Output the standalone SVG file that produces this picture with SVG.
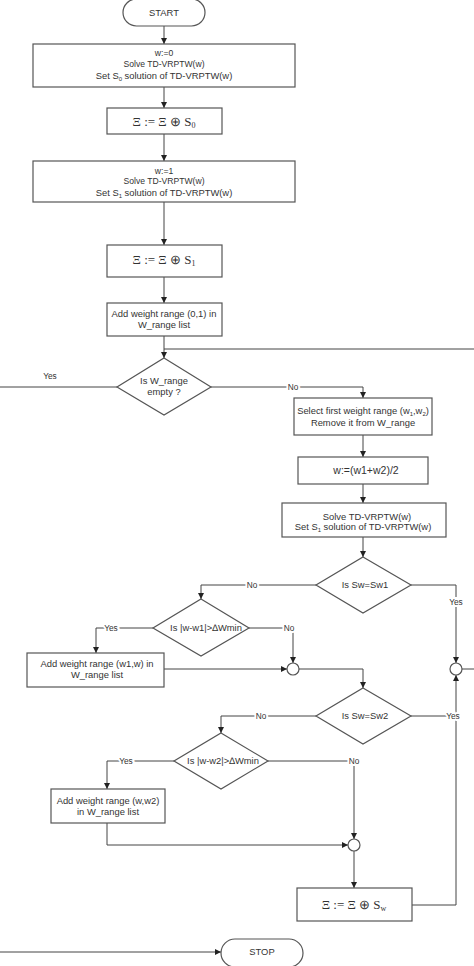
<svg xmlns="http://www.w3.org/2000/svg" width="474" height="966" viewBox="0 0 474 966">
<defs>
<marker id="ah" markerUnits="userSpaceOnUse" markerWidth="7" markerHeight="7" refX="6" refY="3" orient="auto">
<path d="M0,0 L6,3 L0,6 z" fill="#222"/>
</marker>
<style>
.box{fill:#fff;stroke:#555;stroke-width:1.2}
.ln{fill:none;stroke:#444;stroke-width:1}
.ar{fill:none;stroke:#444;stroke-width:1;marker-end:url(#ah)}
.t{font-family:"Liberation Sans",Arial,sans-serif;font-size:9.4px;fill:#333;text-anchor:middle}
.s{font-size:8.6px}
.big{font-size:10.5px}
.m{font-family:"Liberation Serif","Times New Roman",serif;font-size:13px;fill:#333;text-anchor:middle}
.lb{font-family:"Liberation Sans",Arial,sans-serif;font-size:8.3px;fill:#333;text-anchor:middle;stroke:#fff;stroke-width:4;paint-order:stroke}
.plain{font-family:"Liberation Sans",Arial,sans-serif;font-size:8.3px;fill:#333;text-anchor:middle}
.sub{font-size:6px}
.msub{font-size:8px}
</style>
</defs>
<rect width="474" height="966" fill="#fff"/>

<g id="connectors">
<path class="ar" d="M164,26 V44"/>
<path class="ar" d="M164,87 V108"/>
<path class="ar" d="M164,134 V161"/>
<path class="ar" d="M164,202 V245"/>
<path class="ar" d="M164,277 V303"/>
<path class="ar" d="M164,336 V358"/>
<path class="ln" d="M164,349 H474"/>
<path class="ln" d="M117,387 H0"/>
<path class="ar" d="M211,387 H363 V398"/>
<path class="ar" d="M363,435 V457"/>
<path class="ar" d="M363,484 V503"/>
<path class="ar" d="M363,537 V557"/>
<path class="ar" d="M316,585 H201 V599"/>
<path class="ar" d="M411,585 H456 V663"/>
<path class="ar" d="M153,628 H96 V653"/>
<path class="ar" d="M249,628 H293 V663"/>
<path class="ar" d="M164,669 H287"/>
<path class="ar" d="M299,669 H363 V688"/>
<path class="ln" d="M462,669 H474"/>
<path class="ar" d="M316,716 H221 V733"/>
<path class="ln" d="M411,716 H456"/>
<path class="ar" d="M174,761 H107 V789"/>
<path class="ar" d="M268,761 H354 V839"/>
<path class="ar" d="M107,823 V845 H348"/>
<path class="ar" d="M354,851 V888"/>
<path class="ar" d="M412,905 H456 V675"/>
<path class="ar" d="M0,952 H221"/>
<circle class="box" cx="293" cy="669" r="6"/>
<circle class="box" cx="456" cy="669" r="6"/>
<circle class="box" cx="354" cy="845" r="6"/>
<text class="plain" x="50" y="379">Yes</text>
<text class="lb" x="293" y="390">No</text>
<text class="lb" x="252" y="588">No</text>
<text class="lb" x="456" y="605">Yes</text>
<text class="lb" x="111" y="631">Yes</text>
<text class="lb" x="289" y="631">No</text>
<text class="lb" x="261" y="719">No</text>
<text class="lb" x="453" y="719">Yes</text>
<text class="lb" x="126" y="764">Yes</text>
<text class="lb" x="354" y="764">No</text>
</g>

<g id="start">
<rect class="box" x="123" y="-1" width="82" height="27" rx="13.5"/>
<text class="t" x="164" y="16">START</text>
</g>

<g id="init0">
<rect class="box" x="33" y="44" width="262" height="43"/>
<text class="t s" x="164" y="56">w:=0</text>
<text class="t s" x="164" y="67">Solve TD-VRPTW(w)</text>
<text class="t" x="164" y="79">Set S<tspan class="sub" dy="2">0</tspan><tspan dy="-2"> solution of TD-VRPTW(w)</tspan></text>
</g>

<g id="xi0">
<rect class="box" x="107" y="108" width="115" height="26"/>
<text class="m" x="164" y="126">Ξ := Ξ ⊕ S<tspan class="msub" dy="2">0</tspan></text>
</g>

<g id="init1">
<rect class="box" x="33" y="161" width="262" height="41"/>
<text class="t s" x="164" y="174">w:=1</text>
<text class="t s" x="164" y="184">Solve TD-VRPTW(w)</text>
<text class="t" x="164" y="196">Set S<tspan class="sub" dy="2">1</tspan><tspan dy="-2"> solution of TD-VRPTW(w)</tspan></text>
</g>

<g id="xi1">
<rect class="box" x="107" y="245" width="115" height="32"/>
<text class="m" x="164" y="264">Ξ := Ξ ⊕ S<tspan class="msub" dy="2">1</tspan></text>
</g>

<g id="addrange">
<rect class="box" x="107" y="303" width="115" height="33"/>
<text class="t" x="164" y="317">Add weight range (0,1) in</text>
<text class="t" x="164" y="328">W_range list</text>
</g>

<g id="isempty">
<polygon class="box" points="164,358 211,387 164,415 117,387"/>
<text class="t" x="164" y="384">Is W_range</text>
<text class="t" x="164" y="395">empty ?</text>
</g>

<g id="select">
<rect class="box" x="294" y="398" width="138" height="37"/>
<text class="t" x="363" y="414">Select first weight range (w<tspan class="sub" dy="2">1</tspan><tspan dy="-2">,w</tspan><tspan class="sub" dy="2">2</tspan><tspan dy="-2">)</tspan></text>
<text class="t" x="363" y="426">Remove it from W_range</text>
</g>

<g id="mid">
<rect class="box" x="298" y="457" width="130" height="27"/>
<text class="t big" x="366" y="474">w:=(w1+w2)/2</text>
</g>

<g id="solve">
<rect class="box" x="282" y="503" width="164" height="34"/>
<text class="t" x="367" y="520">Solve TD-VRPTW(w)</text>
<text class="t" x="363" y="530">Set S<tspan class="sub" dy="2">1</tspan><tspan dy="-2"> solution of TD-VRPTW(w)</tspan></text>
</g>

<g id="eq1">
<polygon class="box" points="363,557 411,585 363,613 316,585"/>
<text class="t" x="365" y="588">Is Sw=Sw1</text>
</g>

<g id="diff1">
<polygon class="box" points="201,599 249,628 201,656 153,628"/>
<text class="t" x="206" y="631">Is |w-w1|&gt;∆Wmin</text>
</g>

<g id="add1">
<rect class="box" x="27" y="653" width="137" height="34"/>
<text class="t" x="97" y="667">Add weight range (w1,w) in</text>
<text class="t" x="97" y="678">W_range list</text>
</g>

<g id="eq2">
<polygon class="box" points="363,688 411,716 363,744 316,716"/>
<text class="t" x="365" y="719">Is Sw=Sw2</text>
</g>

<g id="diff2">
<polygon class="box" points="221,733 268,761 221,789 174,761"/>
<text class="t" x="223" y="764">Is |w-w2|&gt;∆Wmin</text>
</g>

<g id="add2">
<rect class="box" x="51" y="789" width="114" height="34"/>
<text class="t" x="108" y="804">Add weight range (w,w2)</text>
<text class="t" x="108" y="815">in W_range list</text>
</g>

<g id="xiw">
<rect class="box" x="297" y="888" width="115" height="33"/>
<text class="m" x="354" y="909">Ξ := Ξ ⊕ S<tspan class="msub" dy="2">w</tspan></text>
</g>

<g id="stop">
<rect class="box" x="221" y="939" width="82" height="28" rx="14"/>
<text class="t" x="262" y="955">STOP</text>
</g>
</svg>
